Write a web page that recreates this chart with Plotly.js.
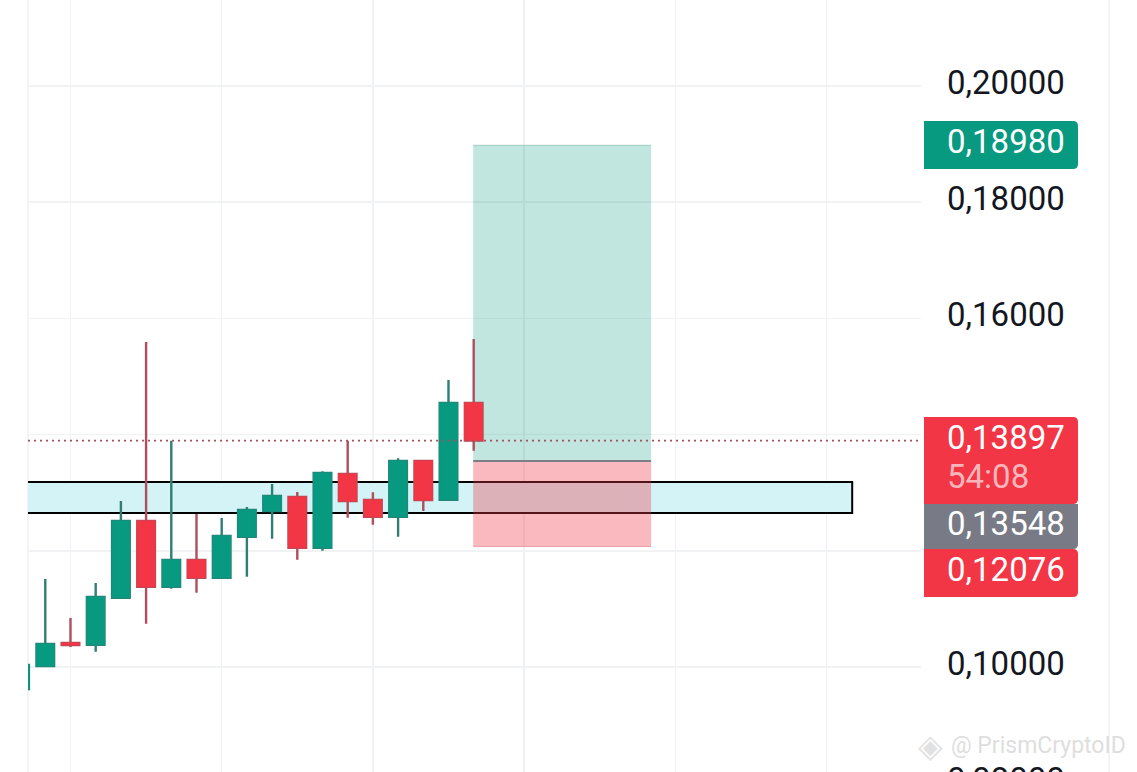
<!DOCTYPE html>
<html><head><meta charset="utf-8">
<script src="https://cdn.plot.ly/plotly-3.0.1.min.js"></script>
<style>html,body{margin:0;padding:0;background:#fff;overflow:hidden;width:1137px;height:772px}</style>
</head><body><div id="chart" style="width:1137px;height:800px"></div>
<script>
const candleIndex = [-1,0,1,2,3,4,5,6,7,8,9,10,11,12,13,14,15,16,17];
const openPrices  = [.09621,.10017,.10413,.10384,.11193,.12513,.11382,.11842,.11537,.12243,.12685,.12926,.12053,.13322,.12874,.12587,.13546,.12880,.14544];
const closePrices = [.10034,.10396,.10380,.11205,.12513,.11382,.11842,.11537,.12255,.12702,.12943,.12053,.13339,.12857,.12587,.13546,.12874,.14544,.13897];
const highPrices  = [.10034,.11515,.10843,.11446,.12857,.15594,.13895,.12633,.12565,.12754,.13150,.13012,.13368,.13895,.13007,.13592,.13546,.14940,.15645];
const lowPrices   = [.09621,.10005,.10344,.10263,.11193,.10745,.11348,.11279,.11537,.11554,.12208,.11847,.12002,.12570,.12449,.12243,.12685,.12880,.13723];
const gridPrices  = [.08,.10,.12,.14,.16,.18,.20];
const priceTicks  = [.08,.10,.16,.18,.20];
const priceLabels = ['0,08000','0,10000','0,16000','0,18000','0,20000'];
const timeGrid    = [1,7,13,19,25,31];
const lastPrice = .13897, targetPrice = .18980, entryPrice = .13548, stopPrice = .12076;
const zoneTop = .13184, zoneBottom = .12651;
const tradeStart = 16.98, tradeEnd = 24.04, zoneEnd = 32.02;

const GREEN='#089981', RED='#f23645', W=1137, H=800, L=28, R=921;
const yRange=[.07711,.21481], xRange=[-.686,34.75];
const labelShift=.00062;
const px=x=>(x-L)/(R-L), py=y=>1-y/H;

function box(x0,x1,y0,y1,color,roundTop,roundBottom){
  const r=5, t=roundTop?r:0, b=roundBottom?r:0;
  const w=x1-x0;
  const top=-y0, bot=-y1;
  const path=`M 0 ${top} L ${w-t} ${top} Q ${w} ${top} ${w} ${top-t} L ${w} ${bot+b} Q ${w} ${bot} ${w-b} ${bot} L 0 ${bot} Z`;
  return {type:'path',xref:'paper',yref:'paper',xsizemode:'pixel',ysizemode:'pixel',
    xanchor:px(x0),yanchor:1,path,fillcolor:color,line:{width:0},layer:'above'};
}
const shapes=[
  {type:'rect',xref:'x',yref:'y',x0:-3,x1:zoneEnd,y0:zoneBottom,y1:zoneTop,fillcolor:'#d3f3f6',line:{color:'#000',width:2},layer:'between'},
  {type:'rect',xref:'x',yref:'y',x0:tradeStart,x1:tradeEnd,y0:entryPrice,y1:targetPrice,fillcolor:'rgba(8,153,129,0.25)',line:{width:0},layer:'between'},
  {type:'rect',xref:'x',yref:'y',x0:tradeStart,x1:tradeEnd,y0:stopPrice,y1:entryPrice,fillcolor:'rgba(242,54,69,0.35)',line:{width:0},layer:'between'},
  {type:'line',xref:'x',yref:'y',x0:tradeStart,x1:tradeEnd,y0:targetPrice,y1:targetPrice,line:{color:'#9ccfc4',width:1},layer:'between'},
  {type:'line',xref:'x',yref:'y',x0:tradeStart,x1:tradeEnd,y0:stopPrice,y1:stopPrice,line:{color:'#ee9aa5',width:1},layer:'between'},
  {type:'line',xref:'x',yref:'y',x0:tradeStart,x1:tradeEnd,y0:entryPrice,y1:entryPrice,line:{color:'#7d7f88',width:2},layer:'between'},
  {type:'line',xref:'paper',yref:'y',x0:0,x1:1,y0:lastPrice,y1:lastPrice,line:{color:'#a8505e',width:1.8,dash:'2px,4px'},layer:'above'},
  {type:'line',xref:'paper',yref:'paper',x0:0,x1:0,y0:0,y1:1,line:{color:'#f0f1f3',width:1.5},layer:'below'},
  {type:'line',xref:'paper',yref:'paper',x0:px(1109),x1:px(1109),y0:0,y1:1,line:{color:'#f0f1f3',width:1.5},layer:'below'},
  box(924,1078,121,169,GREEN,true,true),
  box(924,1078,417,504,RED,true,true),
  box(924,1078,504,549,'#787b86',false,true),
  box(924,1078,549,597,RED,true,true)
];
function label(text,y,color,size){
  return {text,xref:'paper',yref:'paper',x:px(946),y:py(y),xanchor:'left',yanchor:'middle',showarrow:false,
    font:{family:'Roboto',size:size||33,color:color||'#fff'},borderpad:0};
}
const annotations=[
  label(targetPrice.toFixed(5).replace('.',','),141),
  label(lastPrice.toFixed(5).replace('.',','),437),
  label('54:08',476,'#f9b5bc'),
  label(entryPrice.toFixed(5).replace('.',','),523),
  label(stopPrice.toFixed(5).replace('.',','),569),
  {text:'@ PrismCryptoID',xref:'paper',yref:'paper',x:px(949),y:py(745),xanchor:'left',yanchor:'middle',showarrow:false,font:{family:'Roboto',size:23,color:'#dedede'}},
  {text:'◈',xref:'paper',yref:'paper',x:px(930),y:py(746),xanchor:'center',yanchor:'middle',showarrow:false,font:{family:'DejaVu Sans',size:32,color:'#e2e2e2'}}
];
const base={type:'candlestick',x:candleIndex,open:openPrices,close:closePrices,whiskerwidth:0,hoverinfo:'skip',showlegend:false};
const traces=[
  Object.assign({},base,{high:highPrices,low:lowPrices,
    increasing:{line:{color:'#2f7f74',width:2.4},fillcolor:GREEN},
    decreasing:{line:{color:'#ad4f5d',width:2.4},fillcolor:RED}}),
  Object.assign({},base,{
    high:openPrices.map((o,i)=>Math.max(o,closePrices[i])),
    low:openPrices.map((o,i)=>Math.min(o,closePrices[i])),
    increasing:{line:{color:GREEN,width:1},fillcolor:GREEN},
    decreasing:{line:{color:RED,width:1},fillcolor:RED}}),
  {type:'scatter',x:[xRange[0]],y:[priceTicks[0]],yaxis:'y2',mode:'markers',marker:{opacity:0},hoverinfo:'skip',showlegend:false}
];
Plotly.newPlot('chart',traces,{
  width:W,height:H,margin:{l:L,r:W-R,t:0,b:0},paper_bgcolor:'#fff',plot_bgcolor:'#fff',showlegend:false,boxgap:0,
  xaxis:{range:xRange,tickmode:'array',tickvals:timeGrid,showticklabels:false,ticks:'',showgrid:true,gridcolor:'#f1f2f4',gridwidth:1.5,zeroline:false,showline:false,rangeslider:{visible:false},fixedrange:true},
  yaxis:{range:yRange,tickmode:'array',tickvals:gridPrices,showticklabels:false,ticks:'',showgrid:true,gridcolor:'#f1f2f4',gridwidth:1.5,zeroline:false,showline:false,side:'right',fixedrange:true},
  yaxis2:{range:[yRange[0]-labelShift,yRange[1]-labelShift],overlaying:'y',side:'right',anchor:'x',tickmode:'array',tickvals:priceTicks,ticktext:priceLabels,showgrid:false,zeroline:false,showline:false,ticks:'',ticklabelstandoff:25,tickfont:{family:'Roboto',size:33,color:'#131722'},fixedrange:true},
  shapes,annotations
},{displayModeBar:false,staticPlot:true});
</script></body></html>
